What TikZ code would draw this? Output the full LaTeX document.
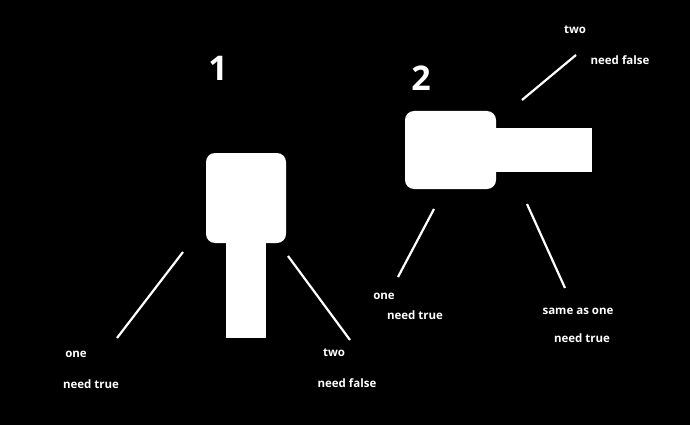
\documentclass[tikz,border=0pt]{standalone}
\usepackage{fontspec}
\setmainfont{Open Sans}
\begin{document}
\begin{tikzpicture}[x=1pt,y=-1pt,
  lbl/.style={text=white,font=\bfseries\fontsize{11.5}{13}\selectfont,inner sep=0pt},
  num/.style={text=white,font=\bfseries\fontsize{34}{36}\selectfont,inner sep=0pt},
  ln/.style={white,line width=2.2pt},
  shp/.style={fill=white,draw=none}]
\fill[black] (0,0) rectangle (690,425);
\useasboundingbox (0,0) rectangle (690,425);
% shape 1
\fill[shp] (226,240) rectangle (266,338);
\fill[shp,rounded corners=9pt] (206,153) rectangle (286,243);
\node[num] (n1) at (218,68) {1};
\coordinate (a1) at (183,252); \coordinate (a2) at (117,338);
\draw[ln] (a1) -- (a2);
\coordinate (b1) at (288,256); \coordinate (b2) at (350,340);
\draw[ln] (b1) -- (b2);
\node[lbl] (t1) at (76,354) {one};
\node[lbl] (t2) at (91,384) {need true};
\node[lbl] (t3) at (334,353) {two};
\node[lbl] (t4) at (347,383) {need false};
% shape 2
\fill[shp] (490,128) rectangle (592,172);
\fill[shp,rounded corners=9pt] (405,111) rectangle (496,189);
\node[num] (n2) at (421,78) {2};
\coordinate (c1) at (576,55); \coordinate (c2) at (522,100);
\draw[ln] (c1) -- (c2);
\coordinate (d1) at (434,209); \coordinate (d2) at (398,277);
\draw[ln] (d1) -- (d2);
\coordinate (e1) at (527,204); \coordinate (e2) at (565,288);
\draw[ln] (e1) -- (e2);
\node[lbl] (u1) at (575,30) {two};
\node[lbl] (u2) at (620,60) {need false};
\node[lbl] (v1) at (384,296) {one};
\node[lbl] (v2) at (415,315) {need true};
\node[lbl] (w1) at (578,311) {same as one};
\node[lbl] (w2) at (582,338) {need true};
\end{tikzpicture}
\end{document}
